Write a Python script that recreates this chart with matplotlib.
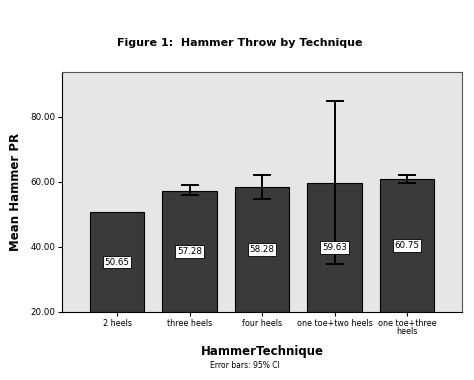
import matplotlib
matplotlib.use("Agg")
import matplotlib.pyplot as plt
import numpy as np

# --- data -------------------------------------------------------------------
techniques = ["2 heels", "three heels", "four heels",
              "one toe+two heels", "one toe+three\nheels"]
means = [50.65, 57.28, 58.28, 59.63, 60.75]
ci_low = [np.nan, 55.9, 54.6, 34.8, 59.6]
ci_high = [np.nan, 59.0, 62.2, 84.7, 62.2]
yticks = [20, 40, 60, 80]

fig = plt.figure(figsize=(4.74, 3.8), dpi=100)
ax = fig.add_axes([0.131, 0.179, 0.844, 0.632])
ax.set_facecolor("#e6e6e6")

x = np.arange(len(techniques))
base = 20
heights = [m - base for m in means]
ax.bar(x, heights, bottom=base, width=0.75, color="#3a3a3a",
       edgecolor="black", linewidth=0.8, zorder=2)

# error bars (95% CI)
for xi, lo, hi in zip(x, ci_low, ci_high):
    if np.isnan(lo):
        continue
    ax.plot([xi, xi], [lo, hi], color="black", lw=1.4, zorder=3)
    for yy in (lo, hi):
        ax.plot([xi - 0.11, xi + 0.11], [yy, yy], color="black", lw=1.4, zorder=3)

# value labels in the middle of each bar
for xi, m in zip(x, means):
    ax.text(xi, (m + base) / 2, f"{m:.2f}", ha="center", va="center",
            fontsize=6.3, color="black", zorder=4,
            bbox=dict(boxstyle="square,pad=0.2", fc="white", ec="black", lw=0.6))

ax.set_xlim(-0.76, 4.76)
ax.set_ylim(20, 93.8)
ax.set_yticks(yticks)
ax.set_yticklabels([f"{t:.2f}" for t in yticks], fontsize=6.3)
ax.set_xticks(x)
ax.set_xticklabels(techniques, fontsize=5.8, linespacing=0.9)
ax.tick_params(direction="out", length=3, width=0.8, pad=2)

for s in ax.spines.values():
    s.set_color("#555555")
    s.set_linewidth(0.8)
ax.spines["left"].set_color("black")
ax.spines["bottom"].set_color("black")

ax.set_ylabel("Mean Hammer PR", fontsize=8.5, fontweight="bold", labelpad=6)
ax.set_xlabel("HammerTechnique", fontsize=8.5, fontweight="bold", labelpad=6)

fig.text(0.505, 0.887, "Figure 1:  Hammer Throw by Technique", ha="center",
         va="center", fontsize=8, fontweight="bold")
fig.text(0.517, 0.037, "Error bars: 95% CI", ha="center", va="center",
         fontsize=5.5)

fig.savefig("out.png", dpi=100)
